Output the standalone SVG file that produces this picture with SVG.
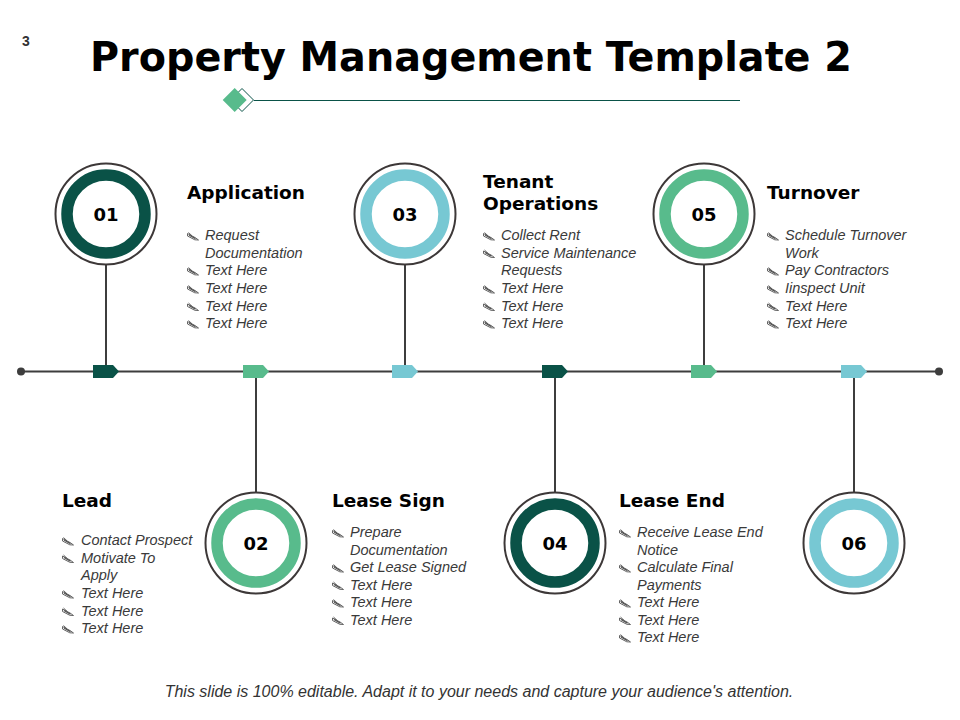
<svg xmlns="http://www.w3.org/2000/svg" xmlns:xlink="http://www.w3.org/1999/xlink" width="960" height="720" viewBox="0 0 960 720">
<defs>
<style>
.title{font-family:"DejaVu Sans",Verdana,sans-serif;font-weight:bold;font-size:40px;fill:#000}
.pg{font-family:"Liberation Sans",Arial,sans-serif;font-weight:bold;font-size:14px;fill:#333}
.head{font-family:"DejaVu Sans",Verdana,sans-serif;font-weight:bold;font-size:18.5px;fill:#000}
.num{font-family:"DejaVu Sans",Verdana,sans-serif;font-weight:bold;font-size:18px;fill:#000;text-anchor:middle}
.bt{font-family:"Liberation Sans",Arial,sans-serif;font-style:italic;font-size:14.5px;fill:#3a3a3a}
.foot{font-family:"Liberation Sans",Arial,sans-serif;font-style:italic;font-size:16px;fill:#333;text-anchor:middle}
.outer{fill:#fff;stroke:#3d3838;stroke-width:2}
.ring{fill:#fff;stroke-width:11.5}
.dark{stroke:#0a5247}
.green{stroke:#58bb8c}
.blue{stroke:#77c8d3}
.fdark{fill:#0a5247}
.fgreen{fill:#58bb8c}
.fblue{fill:#77c8d3}
.conn{stroke:#3d3d3d;stroke-width:2;fill:none}
</style>
<g id="bullet">
<path d="M0.5,1.5 L8.5,5.8 L11.5,8 L7.8,7.8 L0.5,4 Z" fill="none" stroke="#555" stroke-width="0.9"/>
<path d="M2,3 L8.5,6.6" stroke="#555" stroke-width="1.4" fill="none"/>
<path d="M1.5,0.5 L5,3.8" stroke="#555" stroke-width="0.9" fill="none"/>
</g>
<path id="mk" d="M-13,-6.5 H7 L13,0 L7,6.5 H-13 Z"/>
</defs>

<rect width="960" height="720" fill="#fff"/>

<g id="header">
<text class="pg" x="22" y="46">3</text>
<text class="title" x="90" y="71" textLength="762" lengthAdjust="spacingAndGlyphs">Property Management Template 2</text>
<line x1="254" y1="100.5" x2="740" y2="100.5" stroke="#0a5247" stroke-width="1"/>
<path d="M242,88.5 L253.5,100 L242,111.5 L230.5,100 Z" fill="#fff" stroke="#0a5247" stroke-width="1"/>
<path d="M234.7,88 L246.7,100 L234.7,112 L222.7,100 Z" fill="#58bb8c"/>
</g>

<g id="connectors">
<line class="conn" x1="21" y1="371.5" x2="939" y2="371.5"/>
<circle cx="21" cy="371.5" r="4" fill="#3d3d3d"/>
<circle cx="939" cy="371.5" r="4" fill="#3d3d3d"/>
<line class="conn" x1="106" y1="264" x2="106" y2="366"/>
<line class="conn" x1="256" y1="377" x2="256" y2="493"/>
<line class="conn" x1="405" y1="264" x2="405" y2="366"/>
<line class="conn" x1="555" y1="377" x2="555" y2="493"/>
<line class="conn" x1="704" y1="264" x2="704" y2="366"/>
<line class="conn" x1="854" y1="377" x2="854" y2="493"/>
<use xlink:href="#mk" class="fdark" x="106" y="371.5"/>
<use xlink:href="#mk" class="fgreen" x="256" y="371.5"/>
<use xlink:href="#mk" class="fblue" x="405" y="371.5"/>
<use xlink:href="#mk" class="fdark" x="555" y="371.5"/>
<use xlink:href="#mk" class="fgreen" x="704" y="371.5"/>
<use xlink:href="#mk" class="fblue" x="854" y="371.5"/>
</g>

<g id="node01">
<circle class="outer" cx="106" cy="214" r="50.5"/>
<circle class="ring dark" cx="106" cy="214" r="39"/>
<text class="num" x="106" y="221">01</text>
<text class="head" x="187" y="199">Application</text>
<use xlink:href="#bullet" x="187" y="232"/>
<text class="bt" x="205" y="240">Request</text>
<text class="bt" x="205" y="257.5">Documentation</text>
<use xlink:href="#bullet" x="187" y="267"/>
<text class="bt" x="205" y="275">Text Here</text>
<use xlink:href="#bullet" x="187" y="285"/>
<text class="bt" x="205" y="293">Text Here</text>
<use xlink:href="#bullet" x="187" y="302.5"/>
<text class="bt" x="205" y="310.5">Text Here</text>
<use xlink:href="#bullet" x="187" y="320"/>
<text class="bt" x="205" y="328">Text Here</text>
</g>

<g id="node03">
<circle class="outer" cx="405" cy="214" r="50.5"/>
<circle class="ring blue" cx="405" cy="214" r="39"/>
<text class="num" x="405" y="221">03</text>
<text class="head" x="483" y="188">Tenant</text>
<text class="head" x="483" y="210">Operations</text>
<use xlink:href="#bullet" x="483" y="232"/>
<text class="bt" x="501" y="240">Collect Rent</text>
<use xlink:href="#bullet" x="483" y="249.5"/>
<text class="bt" x="501" y="257.5">Service Maintenance</text>
<text class="bt" x="501" y="275">Requests</text>
<use xlink:href="#bullet" x="483" y="285"/>
<text class="bt" x="501" y="293">Text Here</text>
<use xlink:href="#bullet" x="483" y="302.5"/>
<text class="bt" x="501" y="310.5">Text Here</text>
<use xlink:href="#bullet" x="483" y="320"/>
<text class="bt" x="501" y="328">Text Here</text>
</g>

<g id="node05">
<circle class="outer" cx="704" cy="214" r="50.5"/>
<circle class="ring green" cx="704" cy="214" r="39"/>
<text class="num" x="704" y="221">05</text>
<text class="head" x="767" y="199">Turnover</text>
<use xlink:href="#bullet" x="767" y="232"/>
<text class="bt" x="785" y="240">Schedule Turnover</text>
<text class="bt" x="785" y="257.5">Work</text>
<use xlink:href="#bullet" x="767" y="267"/>
<text class="bt" x="785" y="275">Pay Contractors</text>
<use xlink:href="#bullet" x="767" y="285"/>
<text class="bt" x="785" y="293">Iinspect Unit</text>
<use xlink:href="#bullet" x="767" y="302.5"/>
<text class="bt" x="785" y="310.5">Text Here</text>
<use xlink:href="#bullet" x="767" y="320"/>
<text class="bt" x="785" y="328">Text Here</text>
</g>

<g id="node02">
<circle class="outer" cx="256" cy="543" r="50.5"/>
<circle class="ring green" cx="256" cy="543" r="39"/>
<text class="num" x="256" y="550">02</text>
<text class="head" x="62" y="507">Lead</text>
<use xlink:href="#bullet" x="62" y="537"/>
<text class="bt" x="81" y="545">Contact Prospect</text>
<use xlink:href="#bullet" x="62" y="554.5"/>
<text class="bt" x="81" y="562.5">Motivate To</text>
<text class="bt" x="81" y="580">Apply</text>
<use xlink:href="#bullet" x="62" y="590"/>
<text class="bt" x="81" y="598">Text Here</text>
<use xlink:href="#bullet" x="62" y="607.5"/>
<text class="bt" x="81" y="615.5">Text Here</text>
<use xlink:href="#bullet" x="62" y="625"/>
<text class="bt" x="81" y="633">Text Here</text>
</g>

<g id="node04">
<circle class="outer" cx="555" cy="543" r="50.5"/>
<circle class="ring dark" cx="555" cy="543" r="39"/>
<text class="num" x="555" y="550">04</text>
<text class="head" x="332" y="507">Lease Sign</text>
<use xlink:href="#bullet" x="332" y="529"/>
<text class="bt" x="350" y="537">Prepare</text>
<text class="bt" x="350" y="554.5">Documentation</text>
<use xlink:href="#bullet" x="332" y="564"/>
<text class="bt" x="350" y="572">Get Lease Signed</text>
<use xlink:href="#bullet" x="332" y="581.5"/>
<text class="bt" x="350" y="589.5">Text Here</text>
<use xlink:href="#bullet" x="332" y="599"/>
<text class="bt" x="350" y="607">Text Here</text>
<use xlink:href="#bullet" x="332" y="616.5"/>
<text class="bt" x="350" y="624.5">Text Here</text>
</g>

<g id="node06">
<circle class="outer" cx="854" cy="543" r="50.5"/>
<circle class="ring blue" cx="854" cy="543" r="39"/>
<text class="num" x="854" y="550">06</text>
<text class="head" x="619" y="507">Lease End</text>
<use xlink:href="#bullet" x="619" y="529"/>
<text class="bt" x="637" y="537">Receive Lease End</text>
<text class="bt" x="637" y="554.5">Notice</text>
<use xlink:href="#bullet" x="619" y="564"/>
<text class="bt" x="637" y="572">Calculate Final</text>
<text class="bt" x="637" y="589.5">Payments</text>
<use xlink:href="#bullet" x="619" y="599"/>
<text class="bt" x="637" y="607">Text Here</text>
<use xlink:href="#bullet" x="619" y="616.5"/>
<text class="bt" x="637" y="624.5">Text Here</text>
<use xlink:href="#bullet" x="619" y="634"/>
<text class="bt" x="637" y="642">Text Here</text>
</g>

<g id="footer">
<text class="foot" x="479" y="697">This slide is 100% editable. Adapt it to your needs and capture your audience's attention.</text>
</g>
</svg>
